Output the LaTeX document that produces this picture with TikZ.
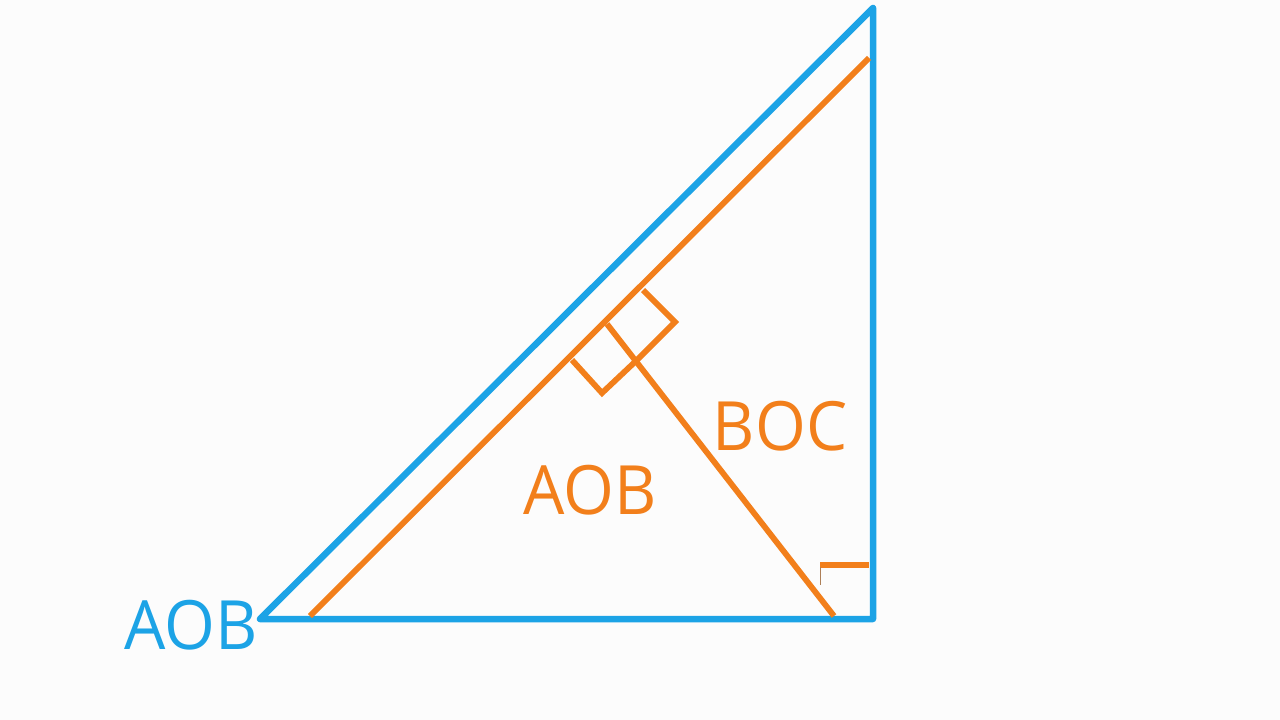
\documentclass[tikz,border=0pt]{standalone}
\usepackage{fontspec}
\setmainfont{Open Sans}
\definecolor{tblue}{HTML}{1CA3E6}
\definecolor{torange}{HTML}{F27F1B}
\definecolor{bgc}{HTML}{FCFCFC}
\begin{document}
\begin{tikzpicture}[x=1pt,y=-1pt,
  blueline/.style={draw=tblue,line width=6.5pt,line join=round,line cap=round},
  orangeline/.style={draw=torange,line width=5.8pt,line join=miter},
  lab/.style={font=\fontsize{68}{68}\selectfont,inner sep=0pt,anchor=center,xscale=0.96}]
\fill[bgc] (0,0) rectangle (1280,720);
\useasboundingbox (0,0) rectangle (1280,720);
% blue triangle
\coordinate (A) at (260,619);
\coordinate (T) at (873,8);
\coordinate (C) at (873,619);
\draw[blueline] (A) -- (T) -- (C) -- cycle;
% orange parallel line
\coordinate (P1) at (310,616);
\coordinate (P2) at (869,58);
\draw[orangeline] (P1) -- (P2);
% perpendicular
\coordinate (F) at (607,324);
\coordinate (Q) at (637,360);
\coordinate (B) at (834,616);
\draw[orangeline] (F) -- (B);
% right angle squares
\coordinate (S1) at (572,360);
\coordinate (S2) at (602,393);
\coordinate (S3) at (643,290);
\coordinate (S4) at (675,322);
\draw[orangeline] (S1) -- (S2) -- (Q);
\draw[orangeline] (S3) -- (S4) -- (Q);
% small mark at bottom right
\coordinate (R1) at (820,565);
\coordinate (R2) at (869,565);
\coordinate (R3) at (820,585);
\draw[torange,line width=5.5pt] (R1) -- (R2);
\draw[torange!40!gray,line width=0.8pt] ([yshift=-2pt]R1) -- (R3);
% labels
\node[lab,text=tblue] (l1) at (191,625) {AOB};
\node[lab,text=torange] (l2) at (590,490) {AOB};
\node[lab,text=torange] (l3) at (780,426) {BOC};
\end{tikzpicture}
\end{document}
